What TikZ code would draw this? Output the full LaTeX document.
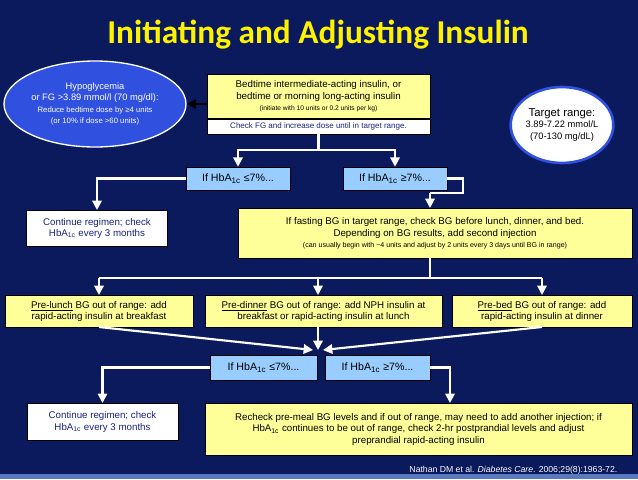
\documentclass[tikz,border=0pt]{standalone}
\usepackage{fontspec}
\setmainfont{Liberation Sans}
\newfontfamily\titlefont{Carlito}
\usetikzlibrary{shapes.geometric,arrows.meta}
\definecolor{bg}{HTML}{0A1A5C}
\definecolor{ylw}{HTML}{FFFF99}
\definecolor{lblue}{HTML}{99CCFF}
\definecolor{navy}{HTML}{1A237E}
\definecolor{eblue}{HTML}{3050E0}
\definecolor{band}{HTML}{5A7AC0}
\tikzset{
  box/.style={draw=black,line width=0.4pt,inner sep=1pt,align=center,font=\fontsize{7.3}{8.6}\selectfont},
  ybox/.style={box,fill=ylw,text=black},
  wbox/.style={box,fill=white,text=navy},
  hbox/.style={box,fill=lblue,text=black,font=\fontsize{8}{9}\selectfont},
  wl/.style={draw=white,line width=1.6pt},
  wa/.style={wl,-{Triangle[width=7pt,length=7pt]}},
}
\newcommand{\hba}{HbA\textsubscript{1c}}
\begin{document}
\begin{tikzpicture}[x=0.75pt,y=-0.75pt]
\fill[bg] (0,0) rectangle (638,479);
\fill[band] (0,474) rectangle (638,479);
\useasboundingbox (0,0) rectangle (638,479);
\node[text=yellow,font=\titlefont\bfseries\fontsize{25}{28}\selectfont] (title) at (318,35) {Initiating and Adjusting Insulin};
% top box
\node[ybox,minimum width=223*0.75pt,minimum height=44*0.75pt,anchor=north] (top) at (318.5,74) {Bedtime intermediate-acting insulin, or\\bedtime or morning long-acting insulin\\{\fontsize{5}{6}\selectfont(initiate with 10 units or 0.2 units per kg)}};
\node[wbox,minimum width=223*0.75pt,minimum height=15*0.75pt,anchor=north,font=\fontsize{6}{7}\selectfont] (topw) at (top.south) {Check FG and increase dose until in target range.};
% ellipses
\node[ellipse,draw=white,line width=1pt,fill=eblue,text=white,minimum width=182*0.75pt,minimum height=86*0.75pt,inner sep=0pt,align=center,font=\fontsize{7}{8.4}\selectfont] (hypo) at (95,104) {Hypoglycemia\\or FG >3.89 mmol/l (70 mg/dl):\\{\fontsize{5.8}{7}\selectfont Reduce bedtime dose by ≥4 units}\\{\fontsize{5.8}{7}\selectfont(or 10\% if dose >60 units)}};
\node[ellipse,draw=eblue,line width=2pt,fill=white,text=black,minimum width=100*0.75pt,minimum height=76*0.75pt,inner sep=0pt,align=center,font=\fontsize{7}{8.4}\selectfont] (target) at (562,125) {{\fontsize{8.5}{10}\selectfont Target range:}\\3.89-7.22 mmol/L\\(70-130 mg/dL)};
\draw[draw=black,line width=1.6pt,-{Triangle[width=7pt,length=7pt]}] (hypo.east -| top.west) -- (hypo.east);
% first HbA row
\node[hbox,minimum width=104*0.75pt,minimum height=23*0.75pt] (h1) at (238,178.5) {If \hba{} ≤7\%...};
\node[hbox,minimum width=104*0.75pt,minimum height=23*0.75pt] (h2) at (395,178.5) {If \hba{} ≥7\%...};
\coordinate (s1) at (318.5,150);
\draw[wl] (topw.south) -- (s1);
\draw[wa] (s1) -| (h1.north);
\draw[wa] (s1) -| (h2.north);
\node[wbox,minimum width=141*0.75pt,minimum height=36*0.75pt,anchor=north] (c1) at (97,210) {Continue regimen; check\\\hba{} every 3 months};
\draw[wa] (h1.west) -| (c1.north);
\node[ybox,minimum width=394*0.75pt,minimum height=50*0.75pt,anchor=north] (b2) at (435,208) {If fasting BG in target range, check BG before lunch, dinner, and bed.\\Depending on BG results, add second injection\\{\fontsize{5.3}{6.5}\selectfont(can usually begin with \textasciitilde4 units and adjust by 2 units every 3 days until BG in range)}};
\coordinate (k1) at (463,178.5);
\coordinate (k2) at (463,193);
\coordinate (k3) at (430,193);
\draw[wl] (h2.east) -- (k1) -- (k2) -- (k3);
\draw[wa] (k3) -- (430,208);
% row 3
\node[ybox,minimum width=188*0.75pt,minimum height=32*0.75pt,anchor=north] (p1) at (99,295) {\underline{Pre-lunch} BG out of range: add\\rapid-acting insulin at breakfast};
\node[ybox,minimum width=237*0.75pt,minimum height=32*0.75pt,anchor=north] (p2) at (323.5,295) {\underline{Pre-dinner} BG out of range: add NPH insulin at\\breakfast or rapid-acting insulin at lunch};
\node[ybox,minimum width=180*0.75pt,minimum height=32*0.75pt,anchor=north] (p3) at (542,295) {\underline{Pre-bed} BG out of range: add\\rapid-acting insulin at dinner};
\coordinate (s2) at (430,278);
\draw[wl] (430,258) -- (s2);
\draw[wl] (99,278) -- (542,278);
\draw[wa] (99,278) -- (p1.north);
\draw[wa] (318,278) -- (318,295);
\draw[wa] (542,278) -- (p3.north);
\coordinate (m) at (318,350);
\draw[wa] (99,327) -- (313,350);
\draw[wa] (318,327) -- (m);
\draw[wa] (542,327) -- (323,350);
% row 4
\node[hbox,minimum width=107*0.75pt,minimum height=25*0.75pt] (h3) at (263.5,367.5) {If \hba{} ≤7\%...};
\node[hbox,minimum width=105*0.75pt,minimum height=25*0.75pt] (h4) at (377.5,367.5) {If \hba{} ≥7\%...};
\node[wbox,minimum width=151*0.75pt,minimum height=37*0.75pt,anchor=north] (c2) at (102.5,403) {Continue regimen; check\\\hba{} every 3 months};
\node[ybox,minimum width=427*0.75pt,minimum height=52*0.75pt,anchor=north] (last) at (418.5,403) {Recheck pre-meal BG levels and if out of range, may need to add another injection; if\\\hba{} continues to be out of range, check 2-hr postprandial levels and adjust\\preprandial rapid-acting insulin};
\draw[wa] (h3.west) -| (c2.north);
\draw[wa] (h4.east) -| (450,403);
\node[text=white,anchor=east,font=\fontsize{6.5}{8}\selectfont] (cite) at (622,470) {Nathan DM et al. \textit{Diabetes Care}. 2006;29(8):1963-72.};
\end{tikzpicture}
\end{document}
